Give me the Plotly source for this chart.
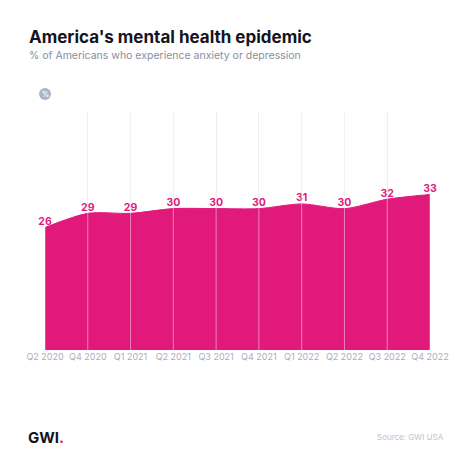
import plotly.graph_objects as go

quarters = ["Q2 2020","Q4 2020","Q1 2021","Q2 2021","Q3 2021","Q4 2021","Q1 2022","Q2 2022","Q3 2022","Q4 2022"]
values = [26,29,29,30,30,30,31,30,32,33]
PINK = "#e0197a"

W, H = 474, 474
OFF = 8  # page offset in screenshot
ML, MR, MT, MB = 45-OFF, 44+OFF, 112-OFF, 124+OFF
PW, PH = W-ML-MR, H-MT-MB

def px(x): return (x - OFF - ML) / PW
def py(y): return (H - (y - OFF) - MB) / PH

def ann(text, x, y, xanchor, size, color, **kw):
    return dict(text=text, x=px(x), y=py(y), xref="paper", yref="paper", xanchor=xanchor,
                yanchor="middle", showarrow=False, font=dict(family="Inter", size=size, color=color), **kw)

fig = go.Figure(go.Scatter(
    x=quarters, y=values, mode="lines+text", fill="tozeroy",
    line=dict(color=PINK, width=1, shape="spline", smoothing=0.8),
    fillcolor=PINK, text=[str(v) for v in values], textposition="top center",
    textfont=dict(family="Inter", size=10.5, color=PINK, weight="bold"),
    cliponaxis=False, hoverinfo="skip"))

shapes = [dict(type="line", xref="x", yref="paper", x0=q, x1=q, y0=0, y1=1,
               line=dict(color="rgba(255,255,255,0.45)", width=1), layer="above") for q in quarters]
shapes.append(dict(type="circle", xref="paper", yref="paper", xsizemode="pixel", ysizemode="pixel",
                   xanchor=px(45), yanchor=py(94), x0=-6, x1=6, y0=-6, y1=6,
                   fillcolor="#a9b4c8", line=dict(width=0)))

fig.update_layout(
    width=W, height=H, margin=dict(l=ML, r=MR, t=MT, b=MB, autoexpand=False),
    paper_bgcolor="white", plot_bgcolor="white", showlegend=False,
    xaxis=dict(showgrid=True, gridcolor="#e6e7ee", gridwidth=1, automargin=False,
               showline=False, zeroline=False, ticks="",
               range=[0, len(quarters)-1],
               tickfont=dict(family="Inter", size=9, color="#a9adbc")),
    yaxis=dict(range=[0, 50.5], visible=False, automargin=False),
    shapes=shapes,
    annotations=[
        ann("<b>America's mental health epidemic</b>", 27, 37, "left", 17, "#14141e"),
        ann("% of Americans who experience anxiety or depression", 27, 56, "left", 10.5, "#8a8e9c"),
        ann("<b>GWI</b><span style='color:%s'><b>.</b></span>" % PINK, 26, 437, "left", 15, "#14141e"),
        ann("Source: GWI USA", 446, 437, "right", 8, "#c0c3cf"),
        ann("<b>%</b>", 45, 94, "center", 7, "white"),
    ])
fig.write_html("out.html")
